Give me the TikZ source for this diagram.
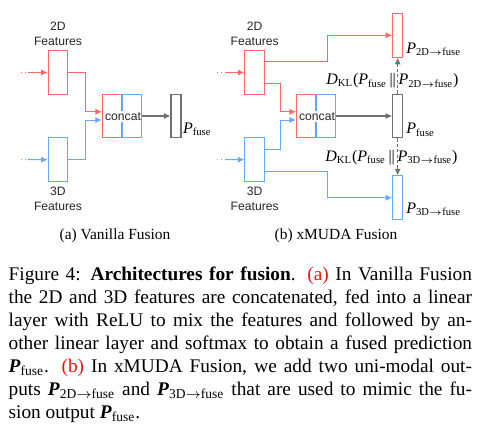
\documentclass[tikz,border=0pt]{standalone}
\usepackage{fontspec}
\setmainfont{Liberation Serif}
\setsansfont{Liberation Sans}
\usetikzlibrary{arrows.meta,positioning}
\definecolor{fred}{RGB}{255,102,102}
\definecolor{fblue}{RGB}{102,170,255}
\definecolor{fgray}{RGB}{112,112,112}
\definecolor{capred}{RGB}{235,20,20}
\newcommand{\iP}{\textit{P}}
\newcommand{\bP}{\textbf{\textit{P}}}
\newcommand{\subtx}[1]{$_{\mbox{\fontsize{5.5}{6}\selectfont #1}}$}
\newcommand{\tofu}[1]{\subtx{#1$\rightarrow$fuse}}
\newcommand{\captofu}[1]{\textsubscript{#1$\rightarrow$fuse}}
\tikzset{
  feat/.style={draw, line width=0.55pt, minimum width=10.2pt, minimum height=22.6pt, inner sep=0pt},
  half/.style={draw, line width=0.55pt, minimum width=9.8pt, minimum height=22.5pt, inner sep=0pt},
  pred/.style={draw, line width=0.55pt, minimum width=5.2pt, minimum height=22.7pt, inner sep=0pt},
  conn/.style={line width=0.55pt, -{Latex[length=3.4pt,width=3.2pt]}},
  dots/.style={line width=0.55pt, dash pattern=on 0.6pt off 1.5pt},
  kl/.style={line width=0.55pt, fgray, dash pattern=on 1.6pt off 1.2pt, -{Latex[length=3.4pt,width=3.2pt]}},
  flabel/.style={font=\sffamily\fontsize{6.3}{7.8}\selectfont, align=center, inner sep=0pt, text=black!85},
  mlabel/.style={font=\fontsize{8.3}{9.6}\selectfont, inner sep=0pt, anchor=base west},
  sublabel/.style={font=\fontsize{8}{9.5}\selectfont, inner sep=0pt, anchor=base},
}
\begin{document}
\begin{tikzpicture}[x=0.518pt,y=-0.518pt]
\useasboundingbox (0,0) rectangle (478,432);
% (a) vanilla fusion
\node[feat, fred] (f2a) at (58,72.5) {};
\node[feat, fblue] (f3a) at (58,159.7) {};
\node[flabel, above=2pt of f2a] (t2a) {2D\\Features};
\node[flabel, below=2.5pt of f3a] (t3a) {3D\\Features};
\node[half, fred] (cra) at (112,116) {};
\node[half, fblue] (cba) at (132,116) {};
\node[flabel, fill=white, inner ysep=0.8pt] (cca) at (123,116.5) {concat};
\node[pred, fgray] (pfa) at (176,116) {};
\node[mlabel] (lfa) at (182.7,133.5) {\iP\subtx{fuse}};
\coordinate (i2a) at (21,72.5);
\coordinate (j2a) at (28,72.5);
\coordinate (i3a) at (21,159.5);
\coordinate (j3a) at (28,159.5);
\draw[dots, fred] (i2a) -- (j2a);
\draw[conn, fred] (j2a) -- (f2a.west);
\draw[dots, fblue] (i3a) -- (j3a);
\draw[conn, fblue] (j3a) -- (f3a.west);
\draw[conn, fred] (f2a.east) -- ++(17.5,0) |- ([yshift=2.2pt]cra.west);
\draw[conn, fblue] (f3a.east) -- ++(17.5,0) |- ([yshift=-2.1pt]cra.west);
\draw[conn, fgray] (cba.east) -- (pfa.west);
\node[sublabel] (capa) at (115,240) {(a) Vanilla Fusion};
% (b) xMUDA fusion
\node[feat, fred] (f2b) at (254.7,72.5) {};
\node[feat, fblue] (f3b) at (254.7,159.7) {};
\node[flabel, above=2pt of f2b] (t2b) {2D\\Features};
\node[flabel, below=2.5pt of f3b] (t3b) {3D\\Features};
\node[half, fred] (crb) at (306,116) {};
\node[half, fblue] (cbb) at (326,116) {};
\node[flabel, fill=white, inner ysep=0.8pt] (ccb) at (317,116.5) {concat};
\node[pred, fred] (p2d) at (397.7,35.3) {};
\node[pred, fgray] (pfb) at (397.7,116) {};
\node[pred, fblue] (p3d) at (397.7,197.8) {};
\node[mlabel] (l2d) at (406,53.5) {\iP\tofu{2D}};
\node[mlabel] (lfb) at (406,134) {\iP\subtx{fuse}};
\node[mlabel] (l3d) at (406,213.5) {\iP\tofu{3D}};
\node[mlabel] (kl2) at (326,85) {\textit{D}\subtx{KL}(\iP\subtx{fuse}\,{|}{|}\,\iP\tofu{2D})};
\node[mlabel] (kl3) at (325,161.7) {\textit{D}\subtx{KL}(\iP\subtx{fuse}\,{|}{|}\,\iP\tofu{3D})};
\coordinate (i2b) at (217,72.5);
\coordinate (j2b) at (225,72.5);
\coordinate (i3b) at (217,159.5);
\coordinate (j3b) at (225,159.5);
\draw[dots, fred] (i2b) -- (j2b);
\draw[conn, fred] (j2b) -- (f2b.west);
\draw[dots, fblue] (i3b) -- (j3b);
\draw[conn, fblue] (j3b) -- (f3b.west);
\draw[conn, fred] ([yshift=5.6pt]f2b.east) -- ++(62.4,0) |- (p2d.west);
\draw[conn, fred] ([yshift=-5.6pt]f2b.east) -- ++(15,0) |- ([yshift=2.2pt]crb.west);
\draw[conn, fblue] ([yshift=5.4pt]f3b.east) -- ++(15,0) |- ([yshift=-2.1pt]crb.west);
\draw[conn, fblue] ([yshift=-6.2pt]f3b.east) -- ++(62.4,0) |- (p3d.west);
\draw[conn, fgray] (cbb.east) -- (pfb.west);
\draw[kl] (pfb.north) -- (p2d.south);
\draw[kl] (pfb.south) -- (p3d.north);
\node[sublabel] (capb) at (336,240) {(b) xMUDA Fusion};
% caption
\node[anchor=base west, inner sep=0pt] (cap) at (8.3,280) {\parbox[t]{240pt}{\fontsize{10}{12}\selectfont
Figure 4: \textbf{Architectures for fusion}. \textcolor{capred}{(a)} In Vanilla Fusion\linebreak
the 2D and 3D features are concatenated, fed into a linear\linebreak
layer with ReLU to mix the features and followed by an-\linebreak
other linear layer and softmax to obtain a fused prediction\linebreak
\bP\textsubscript{fuse}. \textcolor{capred}{(b)} In xMUDA Fusion, we add two uni-modal out-\linebreak
puts \bP\captofu{2D} and \bP\captofu{3D} that are used to mimic the fu-\linebreak
sion output \bP\textsubscript{fuse}.}};
\end{tikzpicture}
\end{document}
